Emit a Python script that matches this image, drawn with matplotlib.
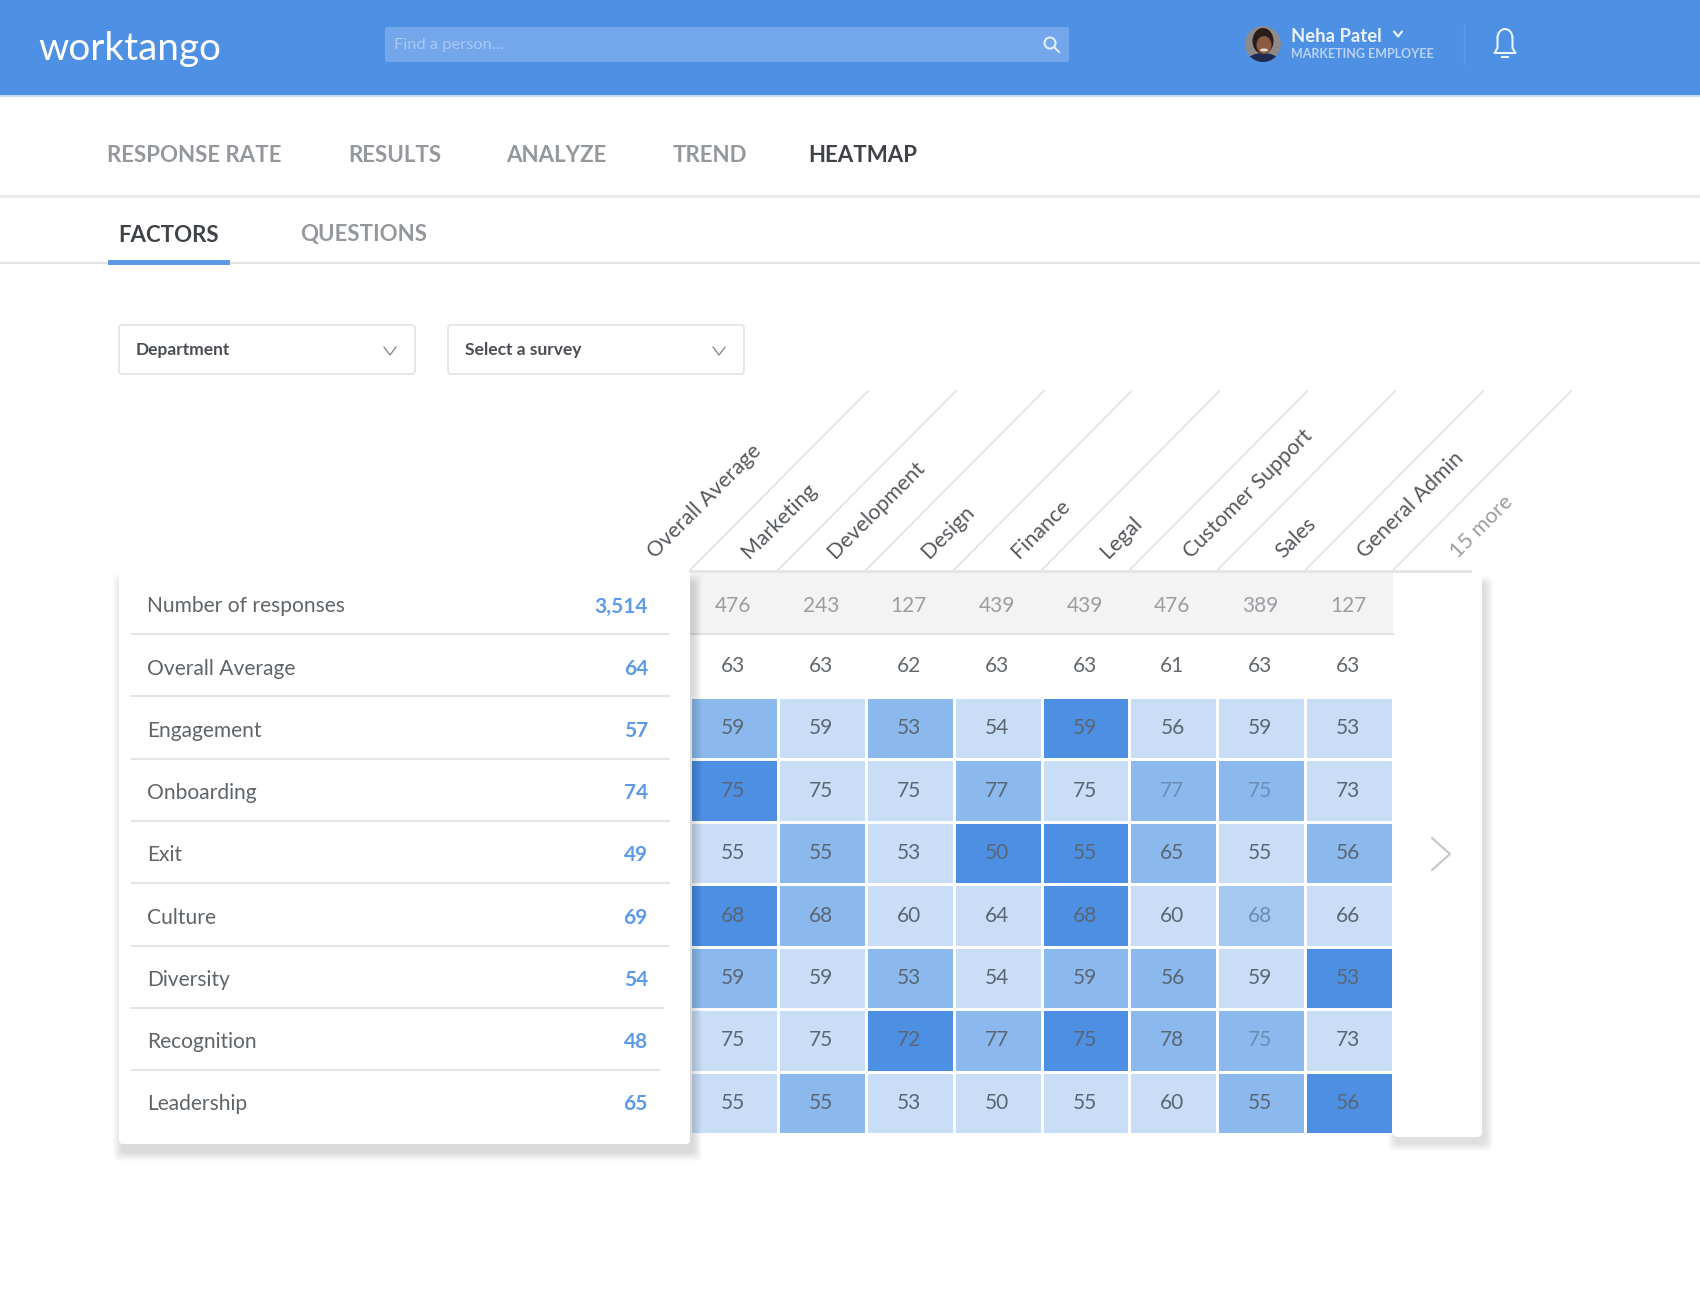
import numpy as np
import matplotlib
matplotlib.use("Agg")
import matplotlib.pyplot as plt
from matplotlib.colors import ListedColormap
from matplotlib.patches import Rectangle, FancyBboxPatch, Circle, Ellipse, Arc

plt.rcParams['font.family'] = ['Lato', 'DejaVu Sans']

# Data
nav_items = ['RESPONSE RATE', 'RESULTS', 'ANALYZE', 'TREND', 'HEATMAP']
sub_tabs = ['FACTORS', 'QUESTIONS']
dropdowns = ['Department', 'Select a survey']
departments = ['Overall Average', 'Marketing', 'Development', 'Design', 'Finance',
               'Legal', 'Customer Support', 'Sales', 'General Admin', '15 more']
row_names = ['Number of responses', 'Overall Average', 'Engagement', 'Onboarding', 'Exit',
             'Culture', 'Diversity', 'Recognition', 'Leadership']
row_totals = ['3,514', '64', '57', '74', '49', '69', '54', '48', '65']
responses = [476, 243, 127, 439, 439, 476, 389, 127]
averages = [63, 63, 62, 63, 63, 61, 63, 63]
values = np.array([
    [59, 59, 53, 54, 59, 56, 59, 53],
    [75, 75, 75, 77, 75, 77, 75, 73],
    [55, 55, 53, 50, 55, 65, 55, 56],
    [68, 68, 60, 64, 68, 60, 68, 66],
    [59, 59, 53, 54, 59, 56, 59, 53],
    [75, 75, 72, 77, 75, 78, 75, 73],
    [55, 55, 53, 50, 55, 60, 55, 56],
])
# colour band of each cell: 0 light, 1 pale, 2 medium, 3 dark
bands = np.array([
    [2, 0, 2, 0, 3, 0, 0, 0],
    [3, 0, 0, 2, 0, 2, 2, 0],
    [0, 2, 0, 3, 3, 2, 0, 2],
    [3, 2, 0, 0, 3, 0, 1, 0],
    [2, 0, 2, 0, 2, 2, 0, 3],
    [0, 0, 3, 2, 3, 2, 2, 0],
    [0, 2, 0, 0, 0, 0, 2, 3],
])
# cells whose number is printed in a fainter blue grey
faint_cells = [(1, 5), (1, 6), (3, 6), (5, 6)]

BLUE = '#4E90E4'
W, H = 1700, 1310

fig = plt.figure(figsize=(W / 100, H / 100), dpi=100, facecolor='white')
bg = fig.add_axes([0, 0, 1, 1], zorder=0)
bg.set_xlim(0, W)
bg.set_ylim(H, 0)
bg.axis('off')
top = fig.add_axes([0, 0, 1, 1], zorder=2)
top.set_xlim(0, W)
top.set_ylim(H, 0)
top.axis('off')
top.patch.set_alpha(0)


def shadow(ax, x0, y0, x1, y1, dx=3, dy=8, blur=9):
    for i in range(blur):
        g = blur - i
        ax.add_patch(FancyBboxPatch((x0 + dx - g, y0 + dy - g), x1 - x0 + 2 * g, y1 - y0 + 2 * g,
                                    boxstyle='round,pad=0,rounding_size=6', fc='black', ec='none', alpha=0.017))


def chevron(ax, x, y, w, h, color, lw=1.2):
    ax.plot([x - w, x, x + w], [y - h, y + h, y - h], color=color, lw=lw, solid_capstyle='round')


# header bar
bg.add_patch(Rectangle((0, 0), W, 95, fc=BLUE, ec='none'))
bg.plot([0, W], [95.5, 95.5], color='#BCD5F4', lw=1.2)
bg.text(38, 49, 'worktango', color='white', fontsize=27.8, va='center', ha='left')
bg.add_patch(FancyBboxPatch((385, 27), 684, 35, boxstyle='round,pad=0,rounding_size=2', fc='#74A6EB', ec='none'))
bg.text(394, 44.5, 'Find a person...', color='#A9C8F2', fontsize=11.8, va='center')
bg.add_patch(Circle((1050, 43), 5.5, fc='none', ec='#E3EEFB', lw=1.5))
bg.plot([1054, 1059], [47, 52], color='#E3EEFB', lw=1.5)

# avatar
clip = Circle((1263, 44), 18, transform=bg.transData)
bits = [Circle((1263, 44), 18, fc='#8E8A8A', ec='none'),
        Ellipse((1263, 64), 36, 22, fc='#1E2A52', ec='none'),
        Ellipse((1263, 41), 21, 26, fc='#2A1C18', ec='none'),
        Ellipse((1264, 45), 15, 18, fc='#8A5A42', ec='none'),
        Ellipse((1264, 50), 8, 3, fc='#E8DCD0', ec='none')]
for b in bits:
    bg.add_patch(b)
    b.set_clip_path(clip)

bg.text(1291, 36, 'Neha Patel', color='#EAF2FD', fontsize=13.3, weight='bold', va='center')
chevron(bg, 1398, 34, 4, 2.5, '#EAF2FD', 1.6)
bg.text(1291, 54, 'MARKETING EMPLOYEE', color='#BAD3F5', fontsize=9, weight='bold', va='center')
bg.plot([1464, 1464], [24, 64], color='#5F9BE6', lw=1)

# bell
bg.add_patch(Arc((1505, 38), 15, 18, theta1=180, theta2=360, ec='#EAF2FD', lw=1.5))
bg.plot([1497.5, 1497.5, 1494.5, 1515.5, 1512.5, 1512.5], [38, 48, 53, 53, 48, 38], color='#EAF2FD', lw=1.5)
bg.plot([1502, 1508], [57, 57], color='#EAF2FD', lw=1.5)

# nav rows
nav_x = [107, 348, 506, 673, 808]
for i, (name, x) in enumerate(zip(nav_items, nav_x)):
    bg.text(x, 156, name, color='#3F4347' if name == 'HEATMAP' else '#94989C',
            fontsize=16, weight='bold', va='center')
bg.plot([0, W], [196, 196], color='#E9E9E9', lw=2)
tab_x = [118, 300]
for i, (name, x) in enumerate(zip(sub_tabs, tab_x)):
    bg.text(x, 235, name, color='#3F4347' if i == 0 else '#94989C', fontsize=16, weight='bold', va='center')
bg.plot([0, W], [263, 263], color='#E3E3E3', lw=1.5)
bg.add_patch(Rectangle((108, 260), 122, 4.5, fc='#5C9AE8', ec='none', zorder=3))

# dropdowns
drop_x = [119, 448]
for name, x in zip(dropdowns, drop_x):
    bg.add_patch(FancyBboxPatch((x, 325), 296, 49, boxstyle='round,pad=0,rounding_size=3', fc='white', ec='#E2E2E2', lw=1.2))
    bg.text(x + 17, 350, name, color='#4A4E52', fontsize=12.5, weight='bold', va='center')
    chevron(bg, x + 271, 351, 6, 4, '#8A8E92', 1)

# diagonal column lines and labels
grid_left, cell_w = 690, 87.9
for i in range(len(departments) - 1):
    x = grid_left + i * cell_w
    bg.plot([x, x + 178], [570, 391], color='#DDDDDD', lw=1)
label_x = [651, 745, 831, 925, 1015, 1104, 1187, 1279, 1361, 1454]
for name, x in zip(departments, label_x):
    color = '#9A9EA2' if name == '15 more' else '#54585C'
    bg.text(x, 555, name, color=color, fontsize=15.4, rotation=45, rotation_mode='anchor', ha='left', va='center')
bg.plot([690, 1470], [571, 571], color='#E4E4E4', lw=2)

# right side panel
shadow(bg, 1393, 578, 1482, 1137, dx=3, dy=6, blur=8)
bg.add_patch(FancyBboxPatch((1393, 575), 89, 562, boxstyle='round,pad=0,rounding_size=5', fc='white', ec='none'))
bg.plot([1432, 1450, 1432], [838, 854, 870], color='#C4C6C8', lw=1.5)

# count and average rows
bg.add_patch(Rectangle((690, 572), 703, 61, fc='#F3F3F3', ec='none'))
bg.add_patch(Rectangle((690, 633), 703, 64, fc='white', ec='none'))
bg.plot([690, 1393], [633.5, 633.5], color='#E4E4E4', lw=1.5)
for i, (n, a) in enumerate(zip(responses, averages)):
    x = grid_left + (i + 0.5) * cell_w - 1
    bg.text(x, 605.5, str(n), color='#9A9EA2', fontsize=15, ha='center', va='center')
    bg.text(x, 666.5, str(a), color='#63686D', fontsize=15, ha='center', va='center')

# heatmap cells
heat = fig.add_axes([690 / W, 1 - 1134 / H, 703 / W, 437 / H], zorder=1)
cmap = ListedColormap(['#C9DEF6', '#A5C8F0', '#8BB9ED', '#4D8FE3'])
heat.pcolormesh(bands, cmap=cmap, vmin=0, vmax=3, edgecolors='white', linewidth=0.8)
heat.set_ylim(values.shape[0], 0)
heat.set_xlim(0, values.shape[1])
heat.axis('off')
for r in range(values.shape[0]):
    for c in range(values.shape[1]):
        color = '#6A8DB5' if (r, c) in faint_cells else '#5A6673'
        heat.text(c + 0.49, r + 0.5, str(values[r, c]), color=color, fontsize=15, ha='center', va='center')

# left panel
shadow(top, 119, 575, 690, 1144)
top.add_patch(FancyBboxPatch((119, 572), 571, 572, boxstyle='round,pad=0,rounding_size=4', fc='white', ec='none'))
row_h = 62.2
line_end = [669, 669, 669, 669, 669, 669, 663, 659]
for i, (name, total) in enumerate(zip(row_names, row_totals)):
    y = 606.5 + i * row_h
    top.text(147, y, name, color='#5F6468', fontsize=15.1, va='center')
    top.text(648, y, total, color='#5B9BE8', fontsize=15, weight='bold', va='center', ha='right')
    if i < len(line_end):
        ly = 634 + i * 62.3
        top.plot([132, line_end[i]], [ly, ly], color='#E4E4E4', lw=1.5)

fig.savefig('out.png', dpi=100)
